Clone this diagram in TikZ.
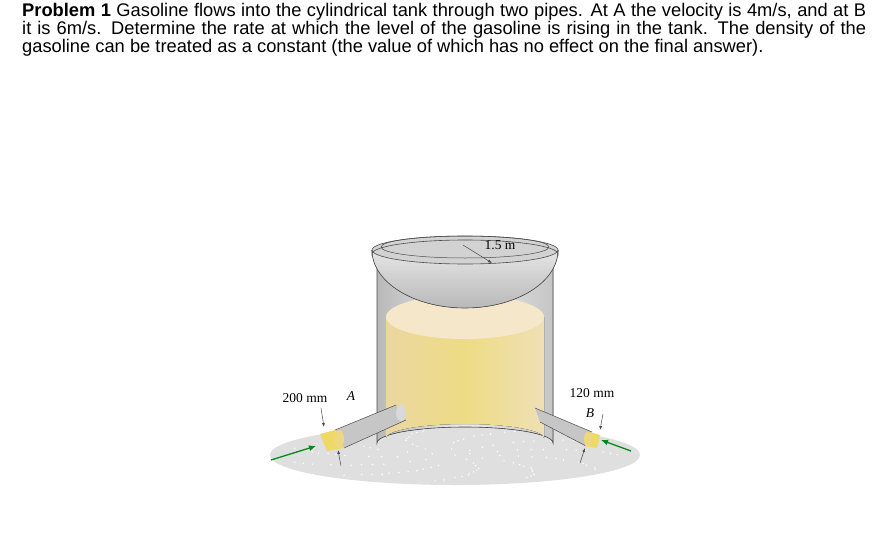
\documentclass[tikz,border=0pt]{standalone}
\usepackage{fontspec}
\usetikzlibrary{arrows.meta}
\setmainfont{Liberation Sans}
\newfontfamily\serfont{Liberation Serif}
\begin{document}
\begin{tikzpicture}[x=1pt,y=-1pt,
  lbl/.style={font=\serfont\fontsize{13.5}{14}\selectfont,inner sep=1pt},
  flow/.style={draw=green!55!black!80!teal,line width=1.3pt,-{Latex[length=7pt,width=6pt]}},
  dim/.style={draw=black!70,line width=0.5pt,-{Latex[length=4pt,width=3pt]}}]
\useasboundingbox[fill=white] (0,0) rectangle (892,546);
\node[anchor=north west,text width=844pt,align=justify,inner sep=0pt] (txt) at (22,3)
 {\fontsize{18.3}{39.3}\selectfont\textbf{Problem 1} Gasoline flows into the cylindrical tank through two pipes. At A the velocity is 4m/s, and at B it is 6m/s. Determine the rate at which the level of the gasoline is rising in the tank. The density of the gasoline can be treated as a constant (the value of which has no effect on the final answer).};
% ground
\fill[gray!25] (455,455) ellipse (185 and 30);
\foreach \i in {1,...,120}{\pgfmathsetmacro{\ang}{mod(\i*37,360)}\pgfmathsetmacro{\rr}{sqrt(mod(\i*13,100)/100)}\fill[white] ({455+170*cos(\ang)*\rr},{455+27*sin(\ang)*\rr}) circle (0.8);}
% tank body
\fill[left color=gray!55,right color=gray!45,middle color=gray!15] (377,252) -- (377,443) arc[start angle=180,end angle=360,x radius=88,y radius=16] -- (553,252) -- cycle;
\draw[gray!60!black,line width=0.6pt] (377,252) -- (377,443) arc[start angle=180,end angle=360,x radius=88,y radius=16] -- (553,252);
% liquid
\fill[left color=yellow!30!brown!45,right color=yellow!30!brown!35,middle color=yellow!50!brown!55] (386,317) -- (386,438) arc[start angle=180,end angle=360,x radius=79,y radius=14] -- (544,317) -- cycle;
\fill[yellow!25!brown!25] (465,317) ellipse (79 and 22);
% dome
\fill[top color=gray!20,bottom color=gray!55] (372,250) arc[start angle=180,end angle=0,x radius=93,y radius=58] -- cycle;
\draw[gray!60!black,line width=0.6pt] (372,250) arc[start angle=180,end angle=0,x radius=93,y radius=58];
\fill[gray!35] (465,250) ellipse (93 and 14);
\draw[gray!60!black,line width=0.6pt] (465,250) ellipse (93 and 14);
\draw[gray!60!black,line width=0.5pt] (465,247) ellipse (84 and 11);
\draw[gray!60!black,line width=0.6pt] (372,250) -- (372,254) arc[start angle=180,end angle=360,x radius=93,y radius=14] -- (558,250);
\coordinate (c0) at (463,245);
\coordinate (c1) at (492,263);
\draw[dim] (c0) -- (c1);
\node[lbl] (r) at (500,245) {1.5 m};
% pipe A
\fill[gray!45] (396,405) -- (406,420) -- (344,448) -- (335,430) -- cycle;
\draw[gray!60!black,line width=0.5pt] (396,405) -- (335,430) (406,420) -- (344,448);
\fill[gray!30] (401,413) ellipse (5 and 8);
\fill[yellow!60!brown!70] (335,430) -- (344,448) -- (327,451) -- (320,434) -- cycle;
\fill[yellow!50!brown!60] (339,439) ellipse (5 and 9);
% pipe B
\fill[gray!45] (535,408) -- (540,422) -- (586,446) -- (592,432) -- cycle;
\draw[gray!60!black,line width=0.5pt] (535,408) -- (592,432) (540,422) -- (586,446);
\fill[yellow!60!brown!70] (590,432) -- (600,435) -- (597,448) -- (585,446) -- cycle;
\fill[yellow!50!brown!60] (588,439) ellipse (4 and 7);
% labels & dims
\node[lbl] (la) at (305,398) {200 mm};
\node[lbl] (a) at (351,396) {\itshape A};
\node[lbl] (lb) at (592,393) {120 mm};
\node[lbl] (b) at (590,413) {\itshape B};
\coordinate (a1) at (321,408); \coordinate (a2) at (324,427);
\coordinate (a3) at (341,466); \coordinate (a4) at (338,450);
\draw[dim] (a1) -- (a2); \draw[dim] (a3) -- (a4);
\coordinate (b1) at (603,414); \coordinate (b2) at (600,430);
\coordinate (b3) at (580,463); \coordinate (b4) at (585,448);
\draw[dim] (b1) -- (b2); \draw[dim] (b3) -- (b4);
\coordinate (fa0) at (271,460); \coordinate (fa1) at (316,446);
\coordinate (fb0) at (631,451); \coordinate (fb1) at (601,440);
\draw[flow] (fa0) -- (fa1);
\draw[flow] (fb0) -- (fb1);
\end{tikzpicture}
\end{document}
